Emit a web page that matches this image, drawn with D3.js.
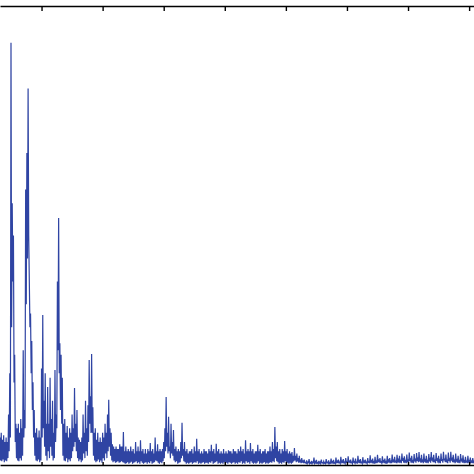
<!DOCTYPE html>
<html>
<head>
<meta charset="utf-8">
<script src="https://cdn.jsdelivr.net/npm/d3@7"></script>
<style>
  html, body { margin: 0; padding: 0; background: #ffffff; }
  svg { display: block; }
</style>
</head>
<body>
<svg id="chart" width="474" height="474"></svg>
<script>
// ---- data ----
const freqStart = 16;          // first bin frequency (unit steps)
const freqEnd = 404;           // last bin frequency
const tickValues = [50, 100, 150, 200, 250, 300, 350, 400];

// spectrum local maxima, one value per frequency bin, split by band
const bandA = [ // 16 .. 115
  6, 7, 5.5, 6.5, 5, 6, 5, 11, 20, 92,
  57, 50, 24, 9, 8, 9, 7, 10, 8, 25,
  12, 60, 68, 82, 40, 33, 27, 18, 12, 7,
  8, 6, 7.5, 6, 21, 32.7, 14, 20, 9, 17,
  9, 19, 10, 14, 7, 20.7, 11, 40, 53.8, 26.5,
  24, 19, 9, 10, 7, 8.5, 6, 8, 7, 11,
  8, 16.8, 9, 12, 6, 5.5, 5, 6, 11, 7,
  14, 8, 13, 22.9, 15, 24.2, 12.6, 7, 8, 5.5,
  7, 5, 6, 5, 7, 6, 9, 7, 11, 14.2,
  8, 7, 4.5, 4, 3.5, 4, 3.5, 3.5, 4.5, 4
];
const bandB = [ // 116 .. 215
  4, 7.2, 3, 4, 3, 3.5, 3, 4, 3, 3.5,
  2.5, 5, 3, 4, 3, 5.4, 3, 3.5, 2.5, 3.5,
  2.5, 3.5, 3, 4.8, 3, 3.5, 2.5, 6, 3, 4.5,
  3, 3.5, 3, 3.5, 5, 8, 14.8, 7, 10.5, 4,
  9, 5, 7.6, 3.5, 4, 3, 3.5, 3, 5, 9.2,
  3.5, 5, 3, 3.5, 2.5, 3, 3, 3.5, 2.5, 4,
  3, 5.7, 3, 3.5, 2.5, 3, 2.5, 3.5, 3, 3,
  2.5, 3.5, 3, 4.4, 3, 3.5, 2.5, 4.6, 3, 3.5,
  2.5, 3, 2.5, 3.5, 2.5, 3, 2.5, 3.2, 3, 3,
  2.5, 3.5, 3, 3, 2.5, 3.5, 3, 4, 3, 3.5
];
const bandC = [ // 216 .. 315
  2.5, 5.4, 3, 3.5, 3, 4.8, 3, 3.5, 2.5, 3,
  3, 4.4, 3, 3.5, 2.5, 3, 3, 3.5, 2.5, 3,
  3, 4, 3, 5, 3.5, 8.3, 4, 5, 3, 3.5,
  2.5, 3.5, 3, 5.2, 3, 3.5, 2.5, 3, 2.5, 2.8,
  2, 3.7, 2, 2.5, 1.5, 2, 1.2, 1.5, 1, 1.2,
  0.5, 1.0, 0.6, 1.3, 0.5, 0.9, 0.6, 1.6, 0.7, 1.1,
  0.5, 0.9, 0.6, 1.2, 0.5, 0.8, 0.5, 1.3, 0.6, 1.0,
  0.5, 1.4, 0.7, 1.1, 0.5, 1.6, 0.8, 1.2, 0.6, 1.8,
  0.8, 1.3, 0.6, 1.5, 0.7, 1.9, 0.8, 1.2, 0.6, 1.6,
  0.7, 1.4, 0.6, 2.0, 0.9, 1.3, 0.6, 1.7, 0.8, 1.2
];
const bandD = [ // 316 .. 404
  0.6, 1.5, 0.7, 2.1, 0.9, 1.4, 0.7, 1.8, 0.8, 2.2,
  1.0, 1.5, 0.7, 1.9, 0.9, 1.4, 0.7, 2.0, 1.0, 1.5,
  0.8, 2.3, 1.0, 1.8, 0.8, 2.2, 1.1, 2.0, 0.9, 2.5,
  1.2, 1.9, 0.9, 2.3, 1.0, 2.7, 1.2, 2.0, 0.9, 2.4,
  1.1, 2.6, 1.3, 2.8, 1.2, 2.2, 1.0, 2.5, 1.1, 2.0,
  0.9, 2.4, 1.2, 2.8, 1.3, 2.2, 1.0, 2.6, 1.2, 2.0,
  1.0, 2.5, 1.3, 2.9, 1.4, 2.3, 1.0, 2.7, 1.2, 2.9,
  1.3, 2.2, 1.0, 2.5, 1.1, 2.0, 0.9, 2.4, 1.1, 2.1,
  0.9, 1.8, 0.8, 2.0, 0.9, 1.6, 0.8, 1.5, 0.8
];

// spectrum minima between bins (at bin + 0.5)
const troughA = [ // 16.5 .. 115.5
  1, 0.8, 1.2, 0.6, 1, 0.8, 1.5, 3, 6, 30,
  40, 18, 5, 1.5, 1, 0.8, 1.5, 1, 2, 6,
  8, 35, 45, 50, 30, 20, 12, 6, 2, 1,
  0.8, 1.2, 0.6, 1, 6, 8, 4, 2, 1, 3,
  1.5, 4, 2, 1, 1.5, 5, 8, 25, 20, 12,
  9, 2, 1, 0.8, 1.5, 0.6, 1.2, 0.8, 1.5, 3,
  4, 5, 3, 1.5, 0.8, 1.2, 0.6, 1, 2.5, 1.5,
  3, 2, 5, 9, 7, 7, 2, 1, 0.6, 0.8,
  1.2, 0.6, 1, 0.5, 1.5, 1, 2.5, 1.5, 3, 4,
  2, 1, 0.6, 0.8, 0.5, 0.6, 0.8, 0.5, 0.6, 0.8
];
const troughB = [ // 116.5 .. 215.5
  0.6, 0.5, 0.3, 0.4, 0.6, 0.3, 0.5, 0.7, 0.3, 0.5,
  0.6, 0.8, 0.4, 0.6, 0.3, 0.8, 0.5, 0.3, 0.5, 0.6,
  0.3, 0.6, 0.4, 0.8, 0.3, 0.5, 0.6, 1, 0.8, 0.5,
  0.3, 0.6, 0.4, 0.8, 1.5, 3, 4, 2.5, 3, 1.5,
  2.5, 2, 1, 0.6, 0.8, 0.3, 0.5, 0.6, 1.5, 2,
  0.8, 0.6, 0.3, 0.5, 0.3, 0.5, 0.6, 0.3, 0.5, 0.6,
  0.5, 0.8, 0.3, 0.5, 0.3, 0.5, 0.6, 0.3, 0.5, 0.5,
  0.3, 0.6, 0.5, 0.8, 0.3, 0.5, 0.6, 0.8, 0.3, 0.5,
  0.3, 0.5, 0.3, 0.6, 0.3, 0.5, 0.3, 0.6, 0.5, 0.3,
  0.5, 0.6, 0.3, 0.5, 0.3, 0.6, 0.5, 0.8, 0.3, 0.5
];
const troughC = [ // 216.5 .. 315.5
  0.3, 0.8, 0.5, 0.6, 0.3, 0.8, 0.5, 0.3, 0.5, 0.3,
  0.5, 0.8, 0.3, 0.5, 0.3, 0.5, 0.6, 0.3, 0.5, 0.3,
  0.5, 0.6, 0.5, 0.8, 0.6, 1.5, 0.8, 0.6, 0.3, 0.5,
  0.3, 0.6, 0.5, 0.8, 0.3, 0.5, 0.3, 0.5, 0.3, 0.5,
  0.8, 1, 0.6, 0.8, 0.5, 0.6, 0.4, 0.5, 0.4, 0.5,
  0.4, 0.3, 0.5, 0.3, 0.4, 0.3, 0.5, 0.4, 0.3, 0.4,
  0.3, 0.4, 0.3, 0.5, 0.3, 0.4, 0.3, 0.5, 0.4, 0.3,
  0.4, 0.5, 0.3, 0.4, 0.3, 0.6, 0.4, 0.5, 0.3, 0.6,
  0.4, 0.5, 0.3, 0.6, 0.4, 0.7, 0.4, 0.5, 0.3, 0.6,
  0.4, 0.5, 0.3, 0.7, 0.4, 0.5, 0.3, 0.6, 0.4, 0.5
];
const troughD = [ // 316.5 .. 404.5
  0.3, 0.6, 0.4, 0.7, 0.4, 0.5, 0.3, 0.6, 0.4, 0.8,
  0.5, 0.6, 0.4, 0.7, 0.4, 0.5, 0.3, 0.7, 0.5, 0.6,
  0.4, 0.8, 0.5, 0.7, 0.4, 0.8, 0.5, 0.7, 0.4, 0.9,
  0.5, 0.7, 0.4, 0.8, 0.5, 0.9, 0.5, 0.7, 0.4, 0.8,
  0.5, 0.9, 0.6, 1.0, 0.5, 0.8, 0.4, 0.9, 0.5, 0.7,
  0.4, 0.8, 0.5, 1.0, 0.6, 0.8, 0.4, 0.9, 0.5, 0.7,
  0.4, 0.9, 0.5, 1.0, 0.6, 0.8, 0.4, 0.9, 0.5, 1.0,
  0.6, 0.8, 0.4, 0.9, 0.5, 0.7, 0.4, 0.8, 0.5, 0.7,
  0.4, 0.7, 0.4, 0.7, 0.4, 0.6, 0.4, 0.6, 0.4
];

const peaks = [...bandA, ...bandB, ...bandC, ...bandD];
const troughs = [...troughA, ...troughB, ...troughC, ...troughD];
const series = [];
peaks.forEach((v, i) => {
  series.push({ f: freqStart + i, a: v });
  series.push({ f: freqStart + i + 0.5, a: troughs[i] });
});

// ---- drawing ----
const W = 474, H = 474;
const plotTop = 6, plotBottom = 465;
const svg = d3.select("#chart");

const x = d3.scaleLinear().domain([freqStart, freqEnd]).range([0, W]);
const y = d3.scaleLinear().domain([0, 100]).range([plotBottom, plotTop]);

const line = d3.line().x(d => x(d.f)).y(d => y(d.a));

svg.append("path")
  .datum(series)
  .attr("fill", "none")
  .attr("stroke", "#2f44a3")
  .attr("stroke-width", 1.2)
  .attr("stroke-linejoin", "miter")
  .attr("d", line);

const topAxis = d3.axisTop(x).tickValues(tickValues).tickSize(-5).tickSizeOuter(0).tickFormat("");
const gTop = svg.append("g").attr("transform", `translate(0,${plotTop})`).call(topAxis);
const bottomAxis = d3.axisBottom(x).tickValues(tickValues).tickSize(-3).tickSizeOuter(0).tickFormat("");
const gBot = svg.append("g").attr("transform", `translate(0,${plotBottom})`).call(bottomAxis);

[gTop, gBot].forEach(g => {
  g.select(".domain").attr("stroke", "#000").attr("stroke-width", 1.4);
  g.selectAll(".tick line").attr("stroke", "#000").attr("stroke-width", 1.4);
});
</script>
</body>
</html>
